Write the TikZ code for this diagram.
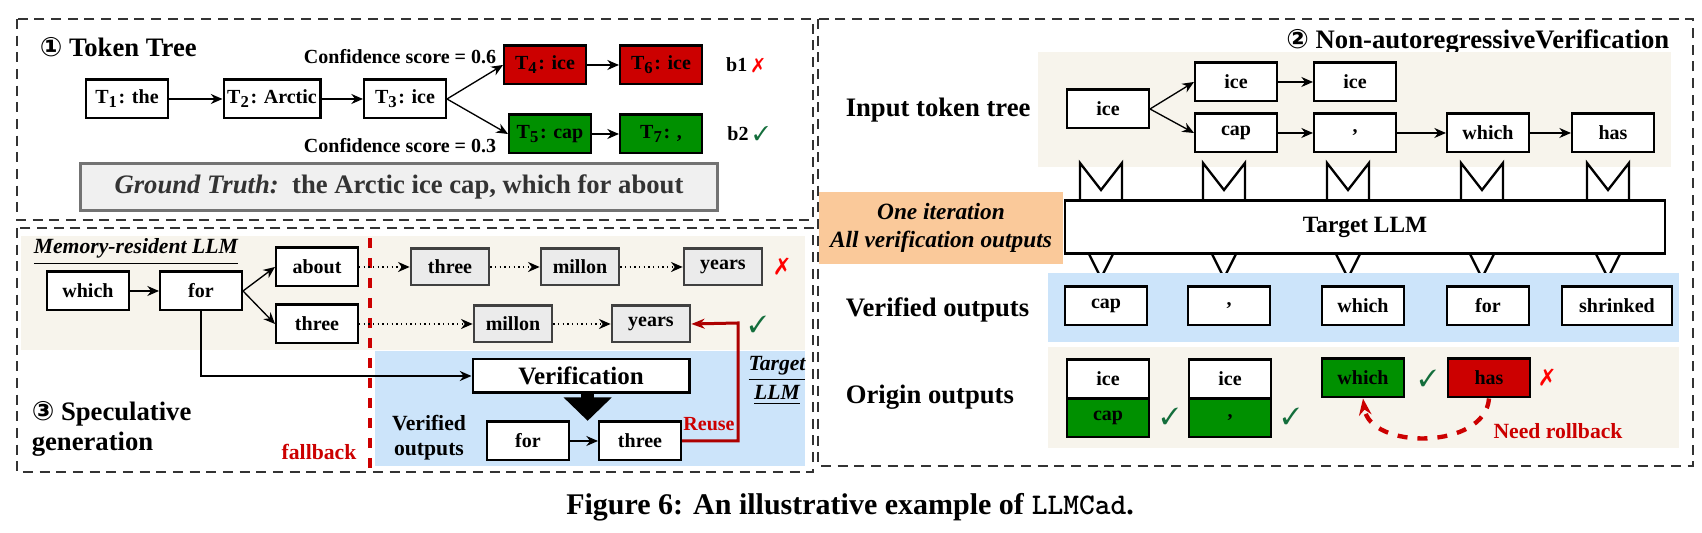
\documentclass[tikz,border=0pt]{standalone}
\usepackage{fontspec}
\setmainfont{Liberation Serif}
\newfontfamily\circfont{DejaVu Sans}
\usepackage{pifont}
\usepackage{tikz}
\usetikzlibrary{arrows.meta}
\definecolor{beige}{RGB}{247,244,236}
\definecolor{skyblue}{RGB}{204,228,250}
\definecolor{peach}{RGB}{250,201,154}
\definecolor{darkred}{RGB}{204,0,0}
\definecolor{okgreen}{RGB}{0,144,0}
\definecolor{tickgreen}{RGB}{20,110,60}
\tikzstyle{tok} = [rectangle, sharp corners, draw, line width=0.7pt, fill=white,
                   text centered, minimum height=11.6pt, minimum width=24.5pt, inner sep=1pt,
                   font=\fontsize{6}{7}\selectfont\bfseries]
\tikzstyle{ghost} = [tok, draw=black!75, fill=black!8, minimum height=11pt, minimum width=23.5pt]
\tikzstyle{panel} = [draw, densely dashed, line width=0.4pt, black!80]
\tikzstyle{lbl} = [font=\fontsize{8}{9}\selectfont\bfseries]
\tikzstyle{mid} = [font=\fontsize{6}{7}\selectfont\bfseries]
\tikzstyle{verdict} = [font=\fontsize{7}{7}\selectfont]
\tikzstyle{nxt} = [-{Stealth[length=3.5pt,width=3pt]}, line width=0.4pt]
\tikzstyle{spec} = [nxt, densely dotted, line width=0.6pt]

\begin{document}
\begin{tikzpicture}[x=0.3pt, y=-0.3pt]
\useasboundingbox (0,0) rectangle (1702,533);
% Panels
\draw[panel] (17,19) rectangle (813,220);
\draw[panel] (17,228) rectangle (813,472);
\draw[panel] (818,19) rectangle (1693,466);

% Token tree
\node[lbl, anchor=west] (tt) at (28,47) {{\circfont ①} Token Tree};
\node[tok] (t1) at (127,99) {T\textsubscript{1}: the};
\node[tok, minimum width=29pt] (t2) at (272,99) {T\textsubscript{2}: Arctic};
\node[tok] (t3) at (405,99) {T\textsubscript{3}: ice};
\node[tok, fill=darkred] (t4) at (545,65) {T\textsubscript{4}: ice};
\node[tok, fill=darkred] (t6) at (661,65) {T\textsubscript{6}: ice};
\node[tok, fill=okgreen] (t5) at (550,134) {T\textsubscript{5}: cap};
\node[tok, fill=okgreen] (t7) at (661,134) {T\textsubscript{7}: ,};
\draw[nxt] (t1) -- (t2);
\draw[nxt] (t2) -- (t3);
\draw[nxt] (t3.east) -- (t4.west);
\draw[nxt] (t3.east) -- (t5.west);
\draw[nxt] (t4) -- (t6);
\draw[nxt] (t5) -- (t7);
\node[mid] (c6) at (400,57) {Confidence score = 0.6};
\node[mid] (c3) at (400,146) {Confidence score = 0.3};
\node[mid] (b1) at (745,65) {b1 \textcolor{red}{\ding{55}}};
\node[mid] (b2) at (748,134) {b2 \textcolor{tickgreen}{\ding{51}}};
\node[draw=black!55, line width=0.9pt, fill=black!6, minimum width=191pt, minimum height=11.6pt,
      font=\fontsize{8}{9}\selectfont\bfseries, text=black!80] (gt) at (399,187)
      {\textit{Ground Truth:}\ \ the Arctic ice cap, which for about};

% Speculative generation
\fill[beige] (21,236) rectangle (805,350);
\fill[skyblue] (375,351) rectangle (805,466);
\draw[darkred, dashed, line width=1.2pt] (370,238) -- (370,468);
\node[mid, anchor=west, font=\fontsize{6.5}{7}\selectfont\bfseries\itshape] (mem) at (22,252) {\underline{Memory-resident LLM}};
\node[tok] (which) at (88,291) {which};
\node[tok] (sfor) at (201,291) {for};
\node[tok] (about) at (317,267) {about};
\node[tok] (sthree) at (317,324) {three};
\node[ghost] (g3) at (450,267) {three};
\node[ghost] (gm) at (580,267) {millon};
\node[ghost] (gy) at (723,267) {years};
\node[ghost] (hm) at (513,324) {millon};
\node[ghost] (hy) at (651,324) {years};
\node[verdict, text=red] (x1) at (782,267) {\ding{55}};
\node[verdict, text=tickgreen] (ok1) at (758,324) {\ding{51}};
\draw[nxt] (which) -- (sfor);
\draw[nxt] (sfor.east) -- (about.west);
\draw[nxt] (sfor.east) -- (sthree.west);
\draw[spec] (about) -- (g3);
\draw[spec] (g3) -- (gm);
\draw[spec] (gm) -- (gy);
\draw[spec] (sthree) -- (hm);
\draw[spec] (hm) -- (hy);
\node[tok, minimum width=65pt, minimum height=10pt, font=\fontsize{7.5}{8}\selectfont\bfseries] (verif) at (581,376) {Verification};
\node[tok] (vfor) at (528,441) {for};
\node[tok] (vthree) at (640,441) {three};
\draw[nxt, line width=0.7pt] (sfor.south) |- (verif.west);
\draw[nxt] (vfor) -- (vthree);
\draw[line width=4pt, -{Triangle[width=14pt,length=7pt]}] ([xshift=2pt]verif.south) -- ++(0,27);
\coordinate (rc) at (738,323);
\draw[darkred!85!black, line width=0.9pt, -{Stealth[length=4pt]}] (vthree.east) -| (rc) -- (hy.east);
\node[mid, text=darkred] (reuse) at (709,424) {Reuse};
\node[mid, align=center, font=\fontsize{6.5}{7.5}\selectfont\bfseries\itshape] (tllm) at (777,381) {\underline{Target}\\\underline{LLM}};
\node[mid, align=center, font=\fontsize{6.5}{7.5}\selectfont\bfseries] (vout) at (429,438) {Verified\\outputs};
\node[mid, text=darkred, font=\fontsize{6.5}{7}\selectfont\bfseries] (fb) at (319,452) {fallback};
\node[lbl, align=left, anchor=west] (sg) at (20,429) {{\circfont ③} Speculative\\generation};

% Non-autoregressive verification
\node[lbl, anchor=east] (nv) at (1681,42) {{\circfont ②} Non-autoregressiveVerification};
\fill[beige] (1038,52) rectangle (1671,167);
\node[lbl, anchor=west] (itt) at (834,110) {Input token tree};
\node[tok] (i1) at (1108,109) {ice};
\node[tok] (i2) at (1236,82) {ice};
\node[tok] (i3) at (1355,82) {ice};
\node[tok] (i4) at (1236,133) {cap};
\node[tok] (i5) at (1355,133) {,};
\node[tok] (i6) at (1488,133) {which};
\node[tok] (i7) at (1613,133) {has};
\draw[nxt] (i1.east) -- (i2.west);
\draw[nxt] (i1.east) -- (i4.west);
\draw[nxt] (i2) -- (i3);
\draw[nxt] (i4) -- (i5);
\draw[nxt] (i5) -- (i6);
\draw[nxt] (i6) -- (i7);
\node[fill=peach, minimum width=69pt, minimum height=20pt, align=center,
      font=\fontsize{7}{8.6}\selectfont\bfseries\itshape] (iter) at (941,228) {One iteration\\All verification outputs};
\node[draw, line width=0.8pt, minimum width=180pt, minimum height=16pt,
      font=\fontsize{7}{8}\selectfont\bfseries] (tgt) at (1365,227) {Target LLM};
\foreach \x in {1101,1224,1348,1482,1608} {
  \draw[line width=0.7pt] (\x-21,199) -- (\x-21,163) -- (\x,190) -- (\x+21,163) -- (\x+21,199);
  \draw[line width=0.7pt] (\x-12,254) -- (\x,278) -- (\x+12,254);
}
\fill[skyblue] (1048,273) rectangle (1679,342);
\node[lbl, anchor=west] (vo) at (834,310) {Verified outputs};
\node[tok] (v1) at (1106,306) {cap};
\node[tok] (v2) at (1229,306) {,};
\node[tok] (v3) at (1363,306) {which};
\node[tok] (v4) at (1488,306) {for};
\node[tok, minimum width=33pt] (v5) at (1617,306) {shrinked};
\fill[beige] (1048,347) rectangle (1679,448);
\node[lbl, anchor=west] (oo) at (834,397) {Origin outputs};
\node[tok] (o1) at (1108,379) {ice};
\node[tok, fill=okgreen] (o1b) at (1108,418) {cap};
\node[tok] (o2) at (1230,379) {ice};
\node[tok, fill=okgreen] (o2b) at (1230,418) {,};
\node[tok, fill=okgreen] (ow) at (1363,378) {which};
\node[tok, fill=darkred] (oh) at (1489,378) {has};
\node[verdict, text=tickgreen] (k1) at (1170,416) {\ding{51}};
\node[verdict, text=tickgreen] (k2) at (1291,416) {\ding{51}};
\node[verdict, text=tickgreen] (k3) at (1428,378) {\ding{51}};
\node[verdict, text=red] (k4) at (1547,378) {\ding{55}};
\draw[darkred, dashed, line width=1.3pt, -{Stealth[length=5pt]}] (oh.south) .. controls (1485,450) and (1370,450) .. (ow.south);
\node[text=darkred, font=\fontsize{6.5}{7}\selectfont\bfseries] (rb) at (1558,431) {Need rollback};

% Caption
\node[font=\fontsize{9}{10}\selectfont\bfseries] (cap) at (850,507) {Figure 6: An illustrative example of \texttt{LLMCad}.};
\end{tikzpicture}
\end{document}
